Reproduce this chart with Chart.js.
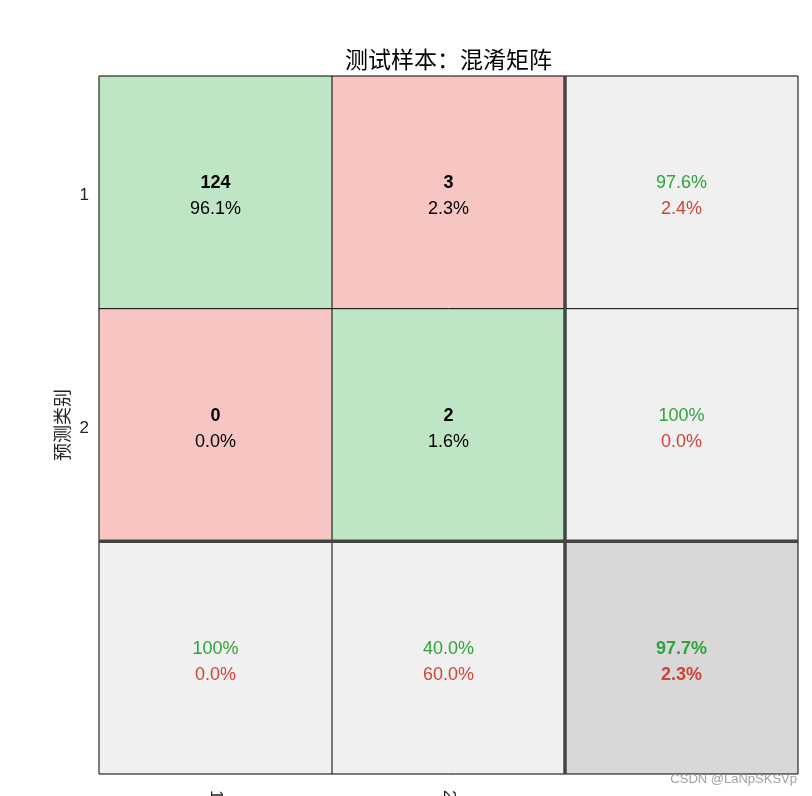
<!DOCTYPE html>
<html>
<head>
<meta charset="utf-8">
<script src="https://cdn.jsdelivr.net/npm/chart.js@4/dist/chart.umd.min.js"></script>
<style>
  html, body { margin: 0; padding: 0; background: #fff; }
  #wrap { width: 812px; height: 796px; }
</style>
</head>
<body>
<div id="wrap"><canvas id="cm"></canvas></div>
<script>
const classLabels = ['1', '2'];
const counts = [[124, 3], [0, 2]];
const cellPct = [[96.1, 2.3], [0.0, 1.6]];
const rowCorrect = [97.6, 100];
const colCorrect = [100, 40.0];
const overallCorrect = 97.7;

const GREEN_BG = '#bfe6c4', RED_BG = '#f7c6c2', GREY_BG = '#f0f0f0', DARK_BG = '#d8d8d8';
const GREEN_TX = '#2ea43a', RED_TX = '#cf4437';
const FONT = '"Liberation Sans", Arial, sans-serif';
const CJK = '"Noto Sans CJK SC", serif';

function fmt(v) {
  return v === 100 ? '100%' : v.toFixed(1) + '%';
}

/* cells of the matrix, row = predicted, col = target */
const cells = [];
for (let r = 0; r < 2; r++) {
  for (let c = 0; c < 2; c++) {
    cells.push({ r, c, bg: r === c ? GREEN_BG : RED_BG,
      lines: [[String(counts[r][c]), '#000', true], [fmt(cellPct[r][c]), '#000', false]] });
  }
  cells.push({ r, c: 2, bg: GREY_BG,
    lines: [[fmt(rowCorrect[r]), GREEN_TX, false], [fmt(100 - rowCorrect[r]), RED_TX, false]] });
}
for (let c = 0; c < 2; c++) {
  cells.push({ r: 2, c, bg: GREY_BG,
    lines: [[fmt(colCorrect[c]), GREEN_TX, false], [fmt(100 - colCorrect[c]), RED_TX, false]] });
}
cells.push({ r: 2, c: 2, bg: DARK_BG,
  lines: [[fmt(overallCorrect), GREEN_TX, true], [(100 - overallCorrect).toFixed(1) + '%', RED_TX, true]] });

const matrixPlugin = {
  id: 'matrix',
  afterDatasetsDraw(chart) {
    const { ctx, scales: { x, y } } = chart;
    const px = v => x.getPixelForValue(v);
    const py = v => y.getPixelForValue(v);
    ctx.save();
    cells.forEach(cell => {
      const x0 = px(cell.c), x1 = px(cell.c + 1);
      const y0 = py(cell.r), y1 = py(cell.r + 1);
      ctx.fillStyle = cell.bg;
      ctx.fillRect(x0, y0, x1 - x0, y1 - y0);
      const cx = (x0 + x1) / 2, cy = (y0 + y1) / 2;
      ctx.textAlign = 'center';
      ctx.textBaseline = 'middle';
      cell.lines.forEach((ln, i) => {
        ctx.font = (ln[2] ? 'bold ' : '') + '18px ' + FONT;
        ctx.fillStyle = ln[1];
        ctx.fillText(ln[0], cx, cy - 9 + i * 26);
      });
    });
    // thin grid
    ctx.strokeStyle = '#000';
    ctx.lineWidth = 1;
    [1].forEach(v => {
      ctx.beginPath(); ctx.moveTo(px(v), py(0)); ctx.lineTo(px(v), py(3)); ctx.stroke();
      ctx.beginPath(); ctx.moveTo(px(0), py(v)); ctx.lineTo(px(3), py(v)); ctx.stroke();
    });
    ctx.beginPath(); ctx.moveTo(px(0), py(0)); ctx.lineTo(px(0), py(3)); ctx.lineTo(px(3), py(3)); ctx.stroke();
    ctx.beginPath(); ctx.moveTo(px(0), py(0)); ctx.lineTo(px(3), py(0)); ctx.lineTo(px(3), py(3)); ctx.stroke();
    // thick separators
    ctx.strokeStyle = '#444';
    ctx.lineWidth = 3.5;
    ctx.beginPath(); ctx.moveTo(px(2), py(0)); ctx.lineTo(px(2), py(3)); ctx.stroke();
    ctx.beginPath(); ctx.moveTo(px(0), py(2)); ctx.lineTo(px(3), py(2)); ctx.stroke();
    // tick labels
    ctx.fillStyle = '#222';
    ctx.font = '17px ' + FONT;
    ctx.textAlign = 'right';
    classLabels.forEach((l, i) => ctx.fillText(l, px(0) - 10, py(i + 0.5) + 3));
    classLabels.forEach((l, i) => {
      ctx.save();
      ctx.translate(px(i + 0.5), py(3) + 16);
      ctx.rotate(Math.PI / 2);
      ctx.textAlign = 'left';
      ctx.fillText(l, 0, 0);
      ctx.restore();
    });
    // axis title
    ctx.save();
    ctx.translate(62, (py(0) + py(3)) / 2);
    ctx.rotate(-Math.PI / 2);
    ctx.textAlign = 'center';
    ctx.font = '18px ' + CJK;
    ctx.fillStyle = '#222';
    ctx.fillText('预测类别', 0, 0);
    ctx.restore();
    // title
    ctx.textAlign = 'center';
    ctx.font = '23px ' + CJK;
    ctx.fillStyle = '#000';
    ctx.fillText('测试样本：混淆矩阵', (px(0) + px(3)) / 2, 59);
    // watermark
    ctx.textAlign = 'right';
    ctx.font = '13px ' + FONT;
    ctx.fillStyle = 'rgba(150,150,150,0.9)';
    ctx.fillText('CSDN @LaNpSKSVp', 797, 779);
    ctx.restore();
  }
};

new Chart(document.getElementById('cm'), {
  type: 'scatter',
  data: { datasets: [{ data: [], pointRadius: 0 }] },
  options: {
    responsive: true,
    maintainAspectRatio: false,
    animation: false,
    layout: { padding: { left: 99, top: 76, right: 14, bottom: 22 } },
    plugins: { legend: { display: false }, tooltip: { enabled: false } },
    scales: {
      x: { type: 'linear', min: 0, max: 3, display: false },
      y: { type: 'linear', min: 0, max: 3, reverse: true, display: false }
    }
  },
  plugins: [matrixPlugin]
});
</script>
</body>
</html>
